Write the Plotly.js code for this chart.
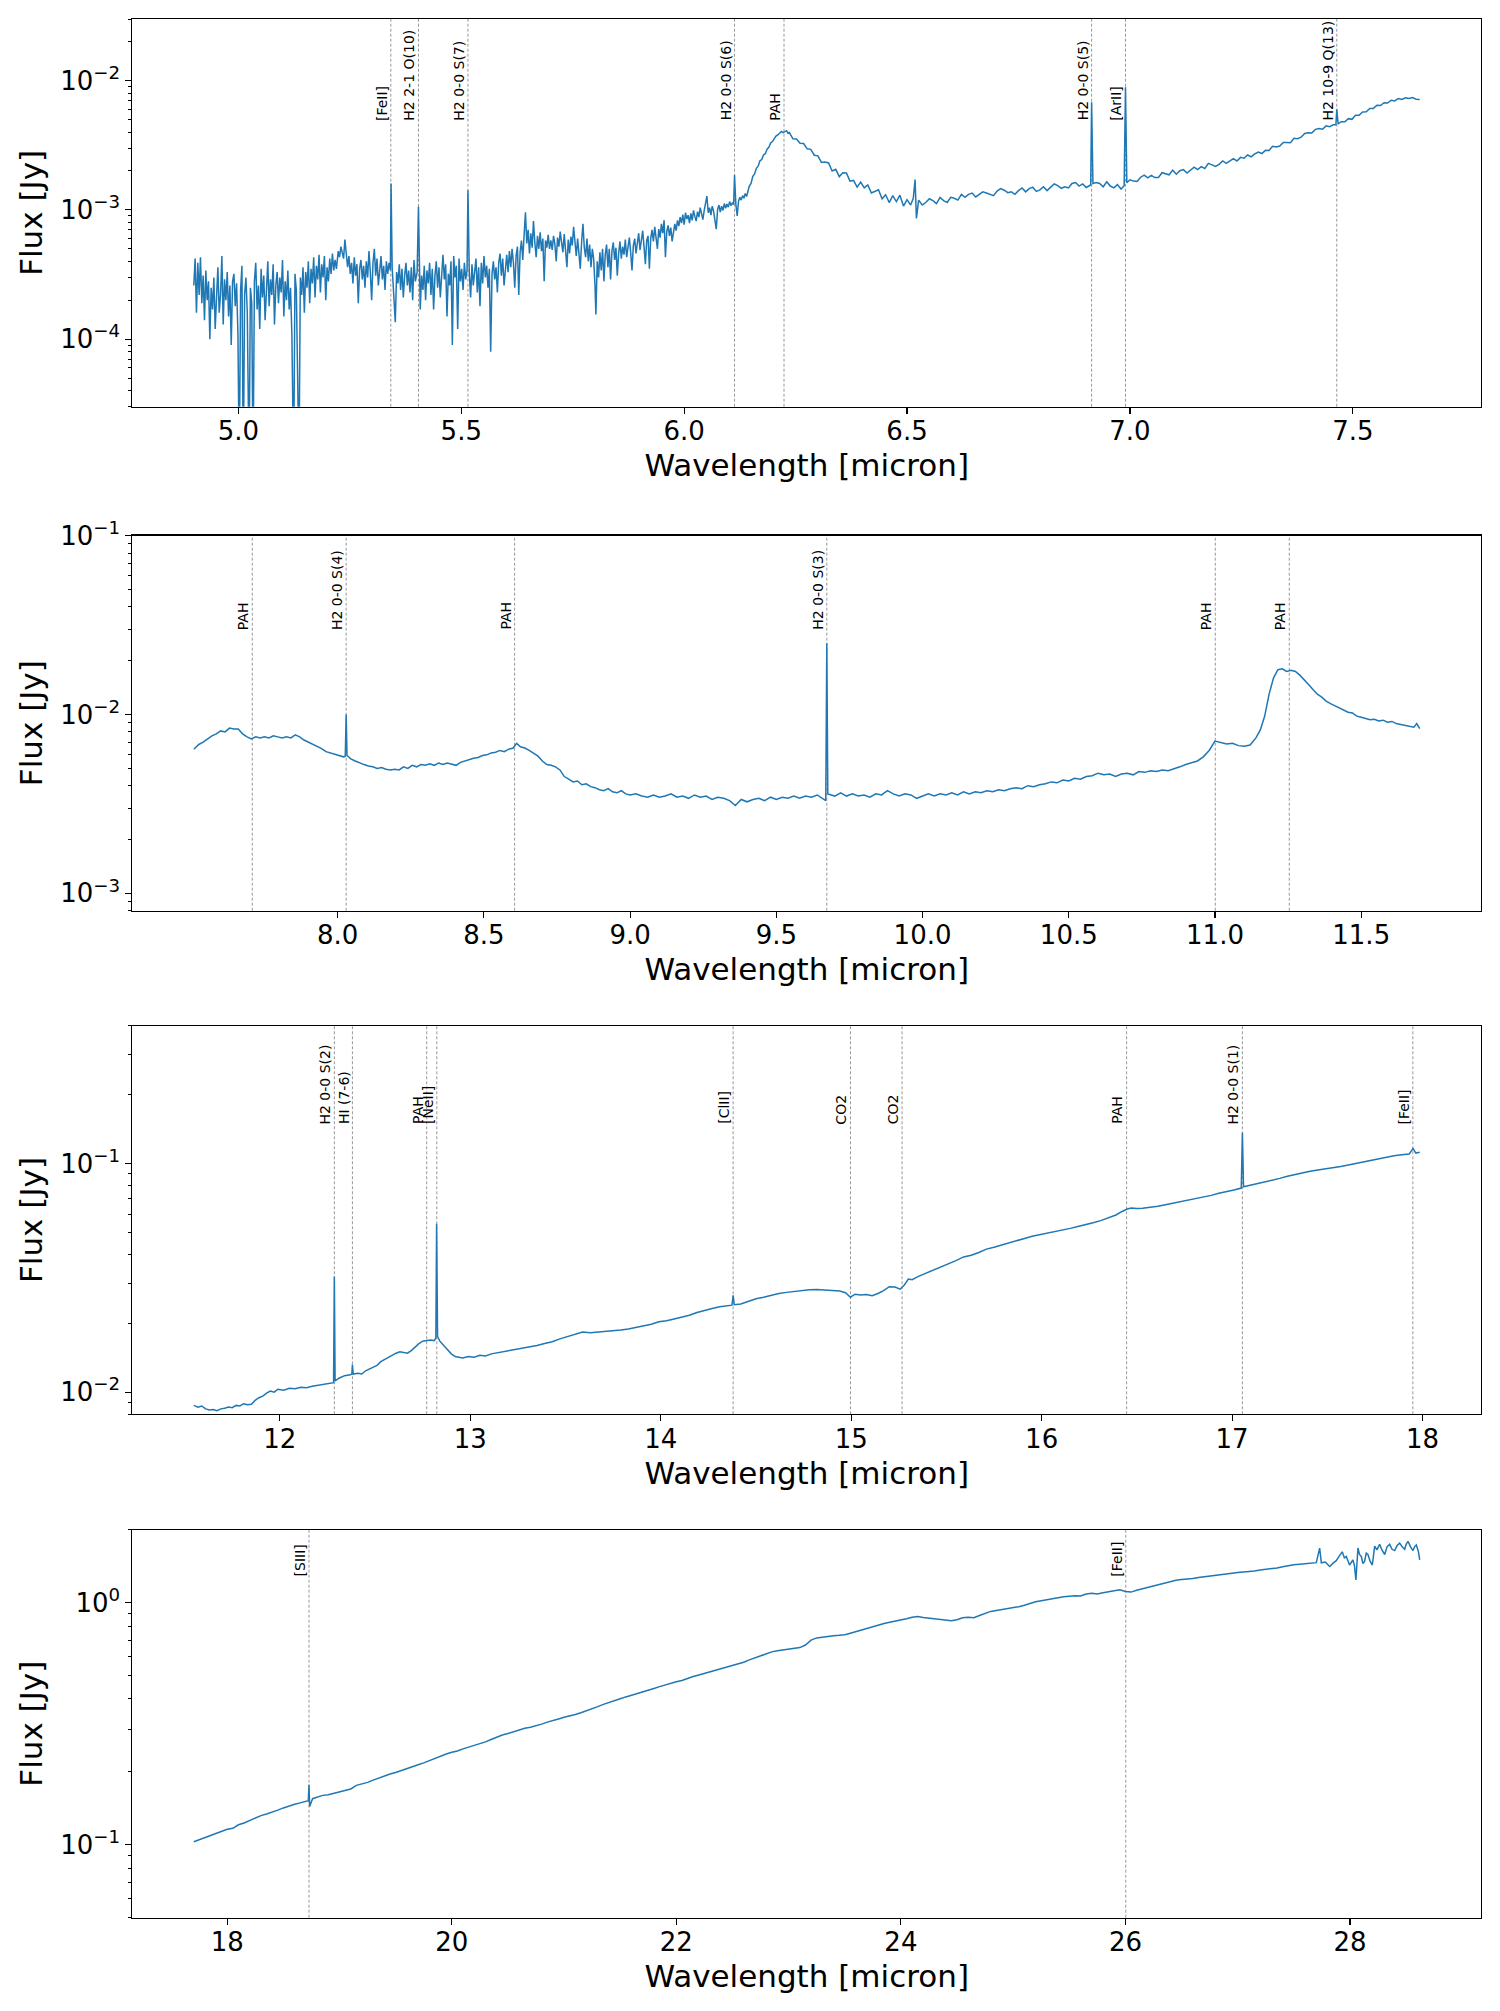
<!DOCTYPE html>
<html>
<head>
<meta charset="utf-8">
<script src="https://cdn.plot.ly/plotly-3.0.1.min.js"></script>
<style>
  html, body { margin: 0; padding: 0; background: #fff; }
  #chart { width: 1500px; height: 2011px; }
</style>
</head>
<body>
<div id="chart"></div>
<script>
// Spectrum pieces, [wavelength (micron), flux (Jy)]
const specA = [
[4.900,2.6e-4],[4.903,4.2e-4],[4.906,1.6e-4],[4.909,3.9e-4],[4.912,2.2e-4],[4.915,4.3e-4],[4.918,1.9e-4],[4.921,3.1e-4],
[4.924,1.4e-4],[4.927,3.4e-4],[4.930,2.0e-4],[4.933,2.8e-4],[4.936,1.0e-4],[4.939,2.5e-4],[4.942,1.7e-4],[4.945,3.0e-4],
[4.948,1.2e-4],[4.951,2.4e-4],[4.954,3.6e-4],[4.957,1.6e-4],[4.960,2.2e-4],[4.963,4.4e-4],[4.966,1.3e-4],[4.969,2.9e-4],
[4.972,2.0e-4],[4.975,3.3e-4],[4.978,1.5e-4],[4.981,2.6e-4],[4.984,9.0e-5],[4.987,2.8e-4],[4.990,3.2e-4],[4.993,1.8e-4],
[4.996,2.7e-4],[4.999,1.1e-4],[5.002,1.0e-5],[5.005,2.4e-4],[5.008,3.7e-4],[5.011,1.0e-5],[5.014,2.2e-4],[5.017,3.0e-4],
[5.020,1.6e-4],[5.024,1.0e-5],[5.027,2.5e-4],[5.030,1.9e-4],[5.033,1.0e-5],[5.036,2.8e-4],[5.039,3.9e-4],[5.042,1.7e-4],
[5.045,2.6e-4],[5.048,1.2e-4],[5.051,3.5e-4],[5.054,2.1e-4],[5.057,3.1e-4],[5.060,1.4e-4],[5.063,2.7e-4],[5.066,4.0e-4],
[5.069,1.8e-4],[5.072,2.9e-4],[5.075,2.2e-4],[5.078,3.8e-4],[5.081,1.3e-4],[5.084,2.6e-4],[5.087,3.3e-4],[5.090,1.9e-4],
[5.093,3.0e-4],[5.096,2.3e-4],[5.099,4.1e-4],[5.102,1.5e-4],[5.105,2.8e-4],[5.108,2.0e-4],[5.111,3.4e-4],[5.114,1.7e-4],
[5.117,2.5e-4],[5.120,1.1e-4],[5.124,1.0e-5],[5.127,3.2e-4],[5.130,2.4e-4],[5.133,1.0e-5],[5.136,1.0e-5],[5.139,3.0e-4],
[5.142,2.2e-4],[5.145,3.6e-4],[5.148,1.6e-4],[5.151,3.3e-4],[5.154,2.5e-4],[5.157,4.0e-4],[5.160,1.9e-4],[5.163,3.5e-4],
[5.166,2.7e-4],[5.169,4.3e-4],[5.172,2.1e-4],[5.175,3.7e-4],[5.178,2.9e-4],[5.181,4.5e-4],[5.184,2.3e-4],[5.187,3.8e-4],
[5.190,3.0e-4],[5.193,4.4e-4],[5.196,2.0e-4],[5.199,3.6e-4],[5.202,2.8e-4],[5.205,4.2e-4],[5.208,3.2e-4],[5.211,4.6e-4],
[5.214,3.4e-4],[5.217,4.1e-4],[5.220,3.5e-4],[5.224,4.8e-4],[5.227,4.3e-4],[5.230,5.2e-4],[5.233,4.5e-4],[5.236,4.2e-4],
[5.239,5.9e-4],[5.242,4.6e-4],[5.245,3.6e-4],[5.248,4.4e-4],[5.251,3.2e-4],[5.254,3.9e-4],[5.257,2.7e-4],[5.260,4.3e-4],
[5.263,3.1e-4],[5.266,3.8e-4],[5.269,1.9e-4],[5.272,3.5e-4],[5.275,4.1e-4],[5.278,2.9e-4],[5.281,3.7e-4],[5.284,2.5e-4],
[5.287,4.0e-4],[5.290,3.0e-4],[5.293,4.8e-4],[5.296,3.3e-4],[5.299,2.0e-4],[5.302,3.9e-4],[5.305,5.0e-4],[5.308,3.1e-4],
[5.311,4.2e-4],[5.314,2.6e-4],[5.317,3.6e-4],[5.320,4.4e-4],[5.323,2.9e-4],[5.326,3.7e-4],[5.329,2.4e-4],[5.332,4.0e-4],
[5.335,3.2e-4],[5.338,3.9e-4],[5.341,3.4e-4],[5.3425,1.6e-3],[5.345,3.6e-4],[5.349,2.2e-4],[5.352,1.35e-4],[5.355,3.3e-4],
[5.358,2.7e-4],[5.361,3.8e-4],[5.364,2.4e-4],[5.367,3.5e-4],[5.370,2.1e-4],[5.373,3.1e-4],[5.376,3.9e-4],[5.379,2.6e-4],
[5.382,3.4e-4],[5.385,2.3e-4],[5.388,3.6e-4],[5.391,2.0e-4],[5.394,4.1e-4],[5.397,2.8e-4],[5.401,3.3e-4],[5.404,1.06e-3],
[5.406,2.6e-4],[5.408,1.7e-4],[5.411,3.1e-4],[5.414,2.4e-4],[5.417,3.7e-4],[5.420,2.0e-4],[5.423,3.4e-4],[5.426,2.7e-4],
[5.429,3.9e-4],[5.432,2.2e-4],[5.435,3.5e-4],[5.438,1.7e-4],[5.441,3.1e-4],[5.444,4.0e-4],[5.447,2.5e-4],[5.450,3.6e-4],
[5.453,2.1e-4],[5.456,3.3e-4],[5.459,4.5e-4],[5.462,2.9e-4],[5.465,3.8e-4],[5.468,1.5e-4],[5.471,3.2e-4],[5.474,2.6e-4],
[5.477,4.0e-4],[5.480,9.0e-5],[5.483,4.4e-4],[5.486,3.0e-4],[5.489,3.7e-4],[5.492,1.2e-4],[5.495,4.2e-4],[5.498,2.8e-4],
[5.501,3.5e-4],[5.504,2.4e-4],[5.507,3.9e-4],[5.510,2.9e-4],[5.513,3.4e-4],[5.515,1.42e-3],[5.518,3.3e-4],[5.521,2.1e-4],
[5.524,3.8e-4],[5.527,2.6e-4],[5.530,3.4e-4],[5.533,4.2e-4],[5.536,2.3e-4],[5.539,3.6e-4],[5.542,1.8e-4],[5.545,3.9e-4],
[5.548,2.7e-4],[5.551,4.4e-4],[5.554,3.0e-4],[5.557,3.7e-4],[5.560,2.5e-4],[5.563,3.5e-4],[5.566,8.0e-5],[5.569,3.2e-4],
[5.572,4.0e-4],[5.575,2.9e-4],[5.578,3.6e-4],[5.581,2.3e-4],[5.584,3.9e-4],[5.587,4.6e-4],[5.590,3.1e-4],[5.593,4.2e-4],
[5.596,2.6e-4],[5.599,3.8e-4],[5.602,4.5e-4],[5.605,3.3e-4],[5.608,4.8e-4],[5.611,3.6e-4],[5.614,5.0e-4],[5.617,3.9e-4],
[5.620,2.5e-4],[5.623,4.4e-4],[5.626,5.2e-4],[5.629,2.2e-4],[5.632,4.7e-4],[5.635,5.8e-4],[5.638,4.1e-4],[5.641,6.4e-4],
[5.644,9.6e-4],[5.647,5.5e-4],[5.650,7.0e-4],[5.653,4.6e-4],[5.656,6.6e-4],[5.659,5.1e-4],[5.662,8.2e-4],[5.665,5.6e-4],
[5.668,4.3e-4],[5.671,6.3e-4],[5.674,5.0e-4],[5.677,6.7e-4],[5.680,4.8e-4],[5.683,6.0e-4],[5.686,2.8e-4],[5.689,5.8e-4],
[5.692,5.1e-4],[5.695,6.4e-4],[5.698,5.0e-4],[5.701,5.8e-4],[5.704,4.9e-4],[5.707,6.3e-4],[5.710,5.4e-4],[5.713,4.0e-4],
[5.716,6.1e-4],[5.719,5.2e-4],[5.722,6.8e-4],[5.725,5.6e-4],[5.728,4.7e-4],[5.731,6.5e-4],[5.734,5.0e-4],[5.737,3.6e-4],
[5.740,5.9e-4],[5.743,4.6e-4],[5.746,6.2e-4],[5.749,5.3e-4],[5.752,7.4e-4],[5.755,5.5e-4],[5.758,4.4e-4],[5.761,6.0e-4],
[5.764,4.8e-4],[5.767,3.5e-4],[5.770,5.7e-4],[5.773,7.8e-4],[5.776,5.1e-4],[5.779,4.3e-4],[5.782,6.0e-4],[5.785,4.0e-4],
[5.788,5.4e-4],[5.791,3.6e-4],[5.794,5.0e-4],[5.797,4.2e-4],[5.800,2.6e-4],[5.802,1.55e-4],[5.805,4.0e-4],[5.808,3.0e-4],
[5.811,4.7e-4],[5.814,3.4e-4],[5.817,5.0e-4],[5.820,2.8e-4],[5.823,4.5e-4],[5.826,5.4e-4],[5.829,3.6e-4],[5.832,5.0e-4],
[5.835,2.9e-4],[5.838,4.8e-4],[5.841,5.6e-4],[5.844,4.1e-4],[5.847,5.1e-4],[5.850,3.1e-4],[5.853,4.6e-4],[5.856,5.7e-4],
[5.859,4.2e-4],[5.862,5.2e-4],[5.865,4.5e-4],[5.868,5.9e-4],[5.871,4.3e-4],[5.874,5.0e-4],[5.877,6.1e-4],[5.880,4.7e-4],
[5.883,3.4e-4],[5.886,5.3e-4],[5.889,6.0e-4],[5.892,4.6e-4],[5.895,5.6e-4],[5.898,6.6e-4],[5.901,4.9e-4],[5.904,5.9e-4],
[5.907,6.9e-4],[5.910,5.2e-4],[5.913,3.8e-4],[5.916,5.8e-4],[5.919,6.3e-4],[5.922,3.5e-4],[5.925,6.0e-4],[5.928,7.0e-4],
[5.931,5.7e-4],[5.934,7.4e-4],[5.937,6.3e-4],[5.940,5.0e-4],[5.943,7.1e-4],[5.946,6.1e-4],[5.949,7.8e-4],[5.952,6.6e-4],
[5.955,8.3e-4],[5.958,4.3e-4],[5.961,6.8e-4],[5.964,7.6e-4],[5.967,6.3e-4],[5.970,7.3e-4],[5.973,5.7e-4],[5.976,7.0e-4],
[5.979,7.8e-4],[5.982,6.9e-4],[5.985,8.3e-4],[5.988,7.5e-4],[5.991,8.8e-4],[5.994,7.9e-4],[5.997,9.2e-4],[6.000,7.7e-4],
[6.003,9.5e-4],[6.006,8.5e-4],[6.009,9.1e-4],[6.012,7.9e-4],[6.015,9.4e-4],[6.018,8.3e-4],[6.021,9.9e-4],[6.024,8.9e-4],
[6.027,8.2e-4],[6.030,9.7e-4],[6.033,8.8e-4],[6.036,1.04e-3],[6.039,9.2e-4],[6.042,8.4e-4],[6.045,9.9e-4],[6.048,1.1e-3],
[6.051,1.28e-3],[6.054,9.5e-4],[6.057,1.04e-3],[6.060,9.1e-4],[6.063,1.07e-3],[6.066,9.8e-4],[6.069,8.2e-4],[6.072,7.1e-4],
[6.075,1.01e-3],[6.078,1.09e-3],[6.081,9.6e-4],[6.084,1.07e-3],[6.087,9.9e-4],[6.090,1.12e-3],[6.093,1.03e-3],[6.096,1.11e-3],
[6.099,1.05e-3],[6.102,1.16e-3],[6.105,1.08e-3],[6.108,1.13e-3],[6.111,1.1e-3],[6.113,1.86e-3],[6.116,1.1e-3],[6.119,9.0e-4],
[6.122,1.17e-3],[6.125,1.25e-3],[6.128,1.19e-3],[6.131,1.29e-3],[6.134,1.23e-3],[6.137,1.34e-3],[6.140,1.27e-3],[6.143,1.4e-3],
[6.146,1.52e-3],[6.150,1.6e-3],[6.154,1.82e-3],[6.158,1.9e-3],[6.162,2.1e-3],[6.166,2.18e-3],[6.170,2.4e-3],[6.174,2.45e-3],
[6.178,2.66e-3],[6.182,2.72e-3],[6.186,2.95e-3],[6.190,3.05e-3],[6.194,3.3e-3],[6.198,3.38e-3],[6.202,3.55e-3],[6.206,3.72e-3],
[6.210,3.8e-3],[6.214,3.95e-3],[6.218,4.05e-3],[6.222,3.96e-3],[6.226,4.06e-3],[6.230,4.1e-3],[6.233,3.92e-3],
[6.236,3.97e-3],[6.244,3.55e-3],[6.252,3.54e-3],[6.260,3.28e-3],[6.268,3.26e-3],[6.276,2.97e-3],[6.284,2.94e-3],[6.292,2.65e-3],
[6.300,2.62e-3],[6.308,2.33e-3],[6.316,2.35e-3],[6.324,2.31e-3],[6.332,2.0e-3],[6.340,2.06e-3],[6.348,1.81e-3],[6.356,1.94e-3],
[6.364,1.93e-3],[6.372,1.67e-3],[6.380,1.69e-3],[6.388,1.5e-3],[6.396,1.64e-3],[6.404,1.48e-3],[6.412,1.56e-3],[6.420,1.35e-3],
[6.428,1.39e-3],[6.436,1.43e-3],[6.444,1.22e-3],[6.452,1.31e-3],[6.460,1.14e-3],[6.468,1.29e-3],[6.476,1.16e-3],[6.484,1.3e-3],
[6.492,1.07e-3],[6.500,1.2e-3],[6.508,1.09e-3],[6.514,1.23e-3],[6.518,1.72e-3],[6.521,8.6e-4],[6.526,1.19e-3],[6.534,1.09e-3],
[6.542,1.14e-3],[6.550,1.22e-3],[6.558,1.18e-3],[6.566,1.12e-3],[6.574,1.25e-3],[6.582,1.18e-3],[6.590,1.14e-3],[6.598,1.25e-3],
[6.606,1.23e-3],[6.614,1.19e-3],[6.622,1.32e-3],[6.630,1.25e-3],[6.638,1.32e-3],[6.646,1.35e-3],[6.654,1.26e-3],[6.662,1.33e-3],
[6.670,1.38e-3],[6.678,1.35e-3],[6.686,1.31e-3],[6.694,1.29e-3],[6.702,1.4e-3],[6.710,1.46e-3],[6.718,1.42e-3],[6.726,1.36e-3],
[6.734,1.38e-3],[6.742,1.32e-3],[6.750,1.41e-3],[6.758,1.48e-3],[6.766,1.38e-3],[6.774,1.46e-3],[6.782,1.5e-3],[6.790,1.39e-3],
[6.798,1.43e-3],[6.806,1.51e-3],[6.814,1.41e-3],[6.822,1.5e-3],[6.830,1.59e-3],[6.838,1.54e-3],[6.846,1.47e-3],[6.854,1.51e-3],
[6.862,1.48e-3],[6.870,1.6e-3],[6.878,1.63e-3],[6.886,1.53e-3],[6.894,1.59e-3],[6.902,1.49e-3],[6.909,1.55e-3],[6.912,1.56e-3],
[6.914,6.8e-3],[6.917,1.6e-3],[6.924,1.63e-3],[6.932,1.6e-3],[6.940,1.51e-3],[6.948,1.65e-3],[6.956,1.53e-3],[6.964,1.48e-3],
[6.972,1.57e-3],[6.980,1.45e-3],[6.987,1.54e-3],[6.990,8.9e-3],[6.993,1.62e-3],[7.000,1.71e-3],[7.008,1.67e-3],[7.016,1.66e-3],
[7.024,1.79e-3],[7.032,1.86e-3],[7.040,1.77e-3],[7.048,1.85e-3],[7.056,1.78e-3],[7.064,1.78e-3],[7.072,1.94e-3],[7.080,1.91e-3],
[7.088,1.87e-3],[7.096,2.03e-3],[7.104,1.89e-3],[7.112,2.01e-3],[7.120,2.05e-3],[7.128,1.93e-3],[7.136,2.02e-3],[7.144,2.14e-3],
[7.152,2.05e-3],[7.160,2.16e-3],[7.168,2.09e-3],[7.176,2.29e-3],[7.184,2.23e-3],[7.192,2.17e-3],[7.200,2.25e-3],[7.208,2.39e-3],
[7.216,2.29e-3],[7.224,2.4e-3],[7.232,2.49e-3],[7.240,2.39e-3],[7.248,2.55e-3],[7.256,2.51e-3],[7.264,2.66e-3],[7.272,2.57e-3],
[7.280,2.71e-3],[7.288,2.8e-3],[7.296,2.73e-3],[7.304,2.89e-3],[7.312,2.88e-3],[7.320,3.11e-3],[7.328,3.07e-3],[7.336,3.12e-3],
[7.344,3.32e-3],[7.352,3.33e-3],[7.360,3.31e-3],[7.368,3.58e-3],[7.376,3.56e-3],[7.384,3.65e-3],[7.392,3.9e-3],[7.400,3.96e-3],
[7.408,3.94e-3],[7.416,4.2e-3],[7.424,4.26e-3],[7.432,4.21e-3],[7.440,4.47e-3],[7.448,4.4e-3],[7.456,4.55e-3],[7.462,4.55e-3],
[7.464,6.0e-3],[7.467,4.62e-3],[7.474,4.81e-3],[7.482,4.8e-3],[7.490,5.08e-3],[7.498,5.02e-3],[7.506,5.39e-3],[7.514,5.4e-3],
[7.522,5.73e-3],[7.530,5.74e-3],[7.538,6.1e-3],[7.546,6.1e-3],[7.554,6.45e-3],[7.562,6.42e-3],[7.570,6.75e-3],[7.578,6.71e-3],
[7.586,7.06e-3],[7.594,6.97e-3],[7.602,7.28e-3],[7.610,7.15e-3],[7.618,7.37e-3],[7.626,7.27e-3],[7.634,7.39e-3],[7.642,7.18e-3],
[7.650,7.15e-3]
];

const specB = [
[7.508,6.4e-3],[7.525,6.8e-3],[7.540,7.0e-3],[7.555,7.3e-3],[7.570,7.6e-3],[7.585,7.8e-3],[7.600,8.1e-3],[7.615,8.0e-3],
[7.630,8.4e-3],[7.645,8.3e-3],[7.660,8.3e-3],[7.675,7.8e-3],[7.690,7.5e-3],[7.705,7.3e-3],[7.720,7.5e-3],[7.735,7.4e-3],
[7.750,7.5e-3],[7.765,7.4e-3],[7.780,7.6e-3],[7.795,7.5e-3],[7.810,7.4e-3],[7.825,7.5e-3],[7.840,7.4e-3],[7.855,7.7e-3],
[7.870,7.5e-3],[7.885,7.2e-3],[7.900,7.0e-3],[7.915,6.8e-3],[7.930,6.6e-3],[7.945,6.45e-3],[7.960,6.2e-3],[7.975,6.1e-3],
[7.990,5.95e-3],[8.005,5.9e-3],[8.020,5.8e-3],[8.026,5.85e-3],[8.029,1.0e-2],[8.032,5.9e-3],[8.045,5.65e-3],[8.060,5.5e-3],
[8.075,5.4e-3],[8.090,5.25e-3],[8.105,5.15e-3],[8.120,5.1e-3],[8.135,5.0e-3],[8.150,5.05e-3],[8.165,4.95e-3],[8.180,4.9e-3],
[8.195,4.95e-3],[8.210,4.9e-3],[8.225,5.1e-3],[8.240,5.0e-3],[8.255,5.2e-3],[8.270,5.1e-3],[8.285,5.25e-3],[8.300,5.2e-3],
[8.315,5.3e-3],[8.330,5.2e-3],[8.345,5.35e-3],[8.360,5.25e-3],[8.375,5.35e-3],[8.390,5.3e-3],[8.405,5.2e-3],[8.420,5.4e-3],
[8.435,5.5e-3],[8.450,5.6e-3],[8.465,5.7e-3],[8.480,5.75e-3],[8.495,5.9e-3],[8.510,5.95e-3],[8.525,6.1e-3],[8.540,6.15e-3],
[8.555,6.3e-3],[8.570,6.2e-3],[8.585,6.4e-3],[8.600,6.5e-3],[8.612,6.9e-3],[8.625,6.6e-3],[8.640,6.5e-3],[8.655,6.3e-3],
[8.670,6.1e-3],[8.685,5.85e-3],[8.700,5.5e-3],[8.715,5.25e-3],[8.730,5.2e-3],[8.745,5.1e-3],[8.760,4.9e-3],[8.775,4.5e-3],
[8.790,4.35e-3],[8.805,4.2e-3],[8.820,4.25e-3],[8.835,4.05e-3],[8.850,4.1e-3],[8.865,3.95e-3],[8.880,3.9e-3],[8.895,3.8e-3],
[8.910,3.75e-3],[8.925,3.85e-3],[8.940,3.7e-3],[8.955,3.65e-3],[8.970,3.75e-3],[8.985,3.6e-3],[9.000,3.55e-3],[9.020,3.6e-3],
[9.040,3.5e-3],[9.060,3.45e-3],[9.080,3.55e-3],[9.100,3.45e-3],[9.120,3.5e-3],[9.140,3.6e-3],[9.160,3.45e-3],[9.180,3.5e-3],
[9.200,3.4e-3],[9.220,3.55e-3],[9.240,3.45e-3],[9.260,3.5e-3],[9.280,3.35e-3],[9.300,3.45e-3],[9.320,3.4e-3],[9.340,3.3e-3],
[9.360,3.1e-3],[9.380,3.35e-3],[9.400,3.25e-3],[9.420,3.35e-3],[9.440,3.4e-3],[9.460,3.3e-3],[9.480,3.45e-3],[9.500,3.35e-3],
[9.520,3.45e-3],[9.540,3.4e-3],[9.560,3.5e-3],[9.580,3.4e-3],[9.600,3.5e-3],[9.620,3.45e-3],[9.640,3.55e-3],[9.660,3.4e-3],
[9.669,3.3e-3],[9.6726,2.5e-2],[9.676,3.6e-3],[9.700,3.5e-3],[9.720,3.65e-3],[9.740,3.5e-3],[9.760,3.6e-3],[9.780,3.5e-3],
[9.800,3.55e-3],[9.820,3.45e-3],[9.840,3.6e-3],[9.860,3.55e-3],[9.880,3.75e-3],[9.900,3.6e-3],[9.920,3.5e-3],[9.940,3.6e-3],
[9.960,3.55e-3],[9.980,3.4e-3],[10.000,3.5e-3],[10.020,3.6e-3],[10.040,3.5e-3],[10.060,3.6e-3],[10.080,3.55e-3],[10.100,3.65e-3],
[10.120,3.55e-3],[10.140,3.7e-3],[10.160,3.6e-3],[10.180,3.7e-3],[10.200,3.65e-3],[10.220,3.75e-3],[10.240,3.7e-3],[10.260,3.8e-3],
[10.280,3.75e-3],[10.300,3.85e-3],[10.320,3.9e-3],[10.340,3.85e-3],[10.360,4.0e-3],[10.380,3.95e-3],[10.400,4.05e-3],[10.420,4.1e-3],
[10.440,4.2e-3],[10.460,4.15e-3],[10.480,4.3e-3],[10.500,4.25e-3],[10.520,4.4e-3],[10.540,4.35e-3],[10.560,4.5e-3],[10.580,4.55e-3],
[10.600,4.7e-3],[10.620,4.6e-3],[10.640,4.65e-3],[10.660,4.5e-3],[10.680,4.65e-3],[10.700,4.7e-3],[10.720,4.6e-3],[10.740,4.8e-3],
[10.760,4.75e-3],[10.780,4.85e-3],[10.800,4.8e-3],[10.820,4.9e-3],[10.840,4.85e-3],[10.860,4.95e-3],[10.880,5.1e-3],[10.900,5.25e-3],
[10.920,5.4e-3],[10.940,5.5e-3],[10.960,5.8e-3],[10.980,6.3e-3],[11.000,7.1e-3],[11.020,7.0e-3],[11.040,6.85e-3],[11.060,6.9e-3],
[11.080,6.7e-3],[11.100,6.65e-3],[11.120,6.75e-3],[11.140,7.4e-3],[11.155,8.2e-3],[11.170,9.8e-3],[11.185,1.3e-2],[11.200,1.6e-2],
[11.215,1.78e-2],[11.230,1.8e-2],[11.245,1.74e-2],[11.260,1.77e-2],[11.275,1.74e-2],[11.290,1.66e-2],[11.305,1.57e-2],[11.320,1.47e-2],
[11.335,1.38e-2],[11.350,1.3e-2],[11.365,1.25e-2],[11.380,1.19e-2],[11.395,1.15e-2],[11.410,1.12e-2],[11.425,1.08e-2],[11.440,1.06e-2],
[11.455,1.03e-2],[11.470,1.02e-2],[11.485,9.8e-3],[11.500,9.65e-3],[11.515,9.5e-3],[11.530,9.35e-3],[11.545,9.4e-3],[11.560,9.2e-3],
[11.575,9.3e-3],[11.590,9.05e-3],[11.605,9.15e-3],[11.620,8.9e-3],[11.635,8.8e-3],[11.650,8.7e-3],[11.665,8.6e-3],[11.680,8.5e-3],
[11.690,8.9e-3],[11.700,8.35e-3]
];

const specC = [
[11.548,8.75e-3],[11.570,8.6e-3],[11.590,8.7e-3],[11.610,8.45e-3],[11.630,8.35e-3],[11.650,8.4e-3],[11.670,8.3e-3],[11.690,8.45e-3],
[11.710,8.5e-3],[11.730,8.6e-3],[11.750,8.55e-3],[11.770,8.75e-3],[11.790,8.7e-3],[11.810,8.9e-3],[11.830,8.8e-3],[11.850,8.85e-3],
[11.870,9.2e-3],[11.890,9.45e-3],[11.910,9.6e-3],[11.930,9.9e-3],[11.950,1.01e-2],[11.970,1.0e-2],[11.990,1.03e-2],[12.020,1.02e-2],
[12.050,1.04e-2],[12.080,1.035e-2],[12.110,1.05e-2],[12.140,1.045e-2],[12.170,1.06e-2],[12.200,1.07e-2],[12.230,1.08e-2],[12.260,1.09e-2],
[12.282,1.1e-2],[12.286,3.2e-2],[12.290,1.12e-2],[12.310,1.15e-2],[12.340,1.18e-2],[12.370,1.19e-2],[12.378,1.2e-2],[12.381,1.32e-2],
[12.385,1.2e-2],[12.410,1.21e-2],[12.430,1.2e-2],[12.450,1.24e-2],[12.470,1.26e-2],[12.490,1.29e-2],[12.510,1.31e-2],[12.530,1.36e-2],
[12.550,1.39e-2],[12.570,1.42e-2],[12.590,1.46e-2],[12.610,1.48e-2],[12.630,1.5e-2],[12.650,1.49e-2],[12.670,1.48e-2],[12.690,1.52e-2],
[12.710,1.58e-2],[12.730,1.63e-2],[12.750,1.67e-2],[12.770,1.68e-2],[12.790,1.69e-2],[12.810,1.68e-2],[12.819,1.72e-2],[12.823,5.45e-2],
[12.828,1.75e-2],[12.840,1.67e-2],[12.860,1.6e-2],[12.880,1.52e-2],[12.900,1.47e-2],[12.920,1.43e-2],[12.940,1.42e-2],[12.960,1.41e-2],
[12.990,1.43e-2],[13.020,1.42e-2],[13.050,1.45e-2],[13.080,1.44e-2],[13.110,1.47e-2],[13.150,1.49e-2],[13.190,1.52e-2],[13.230,1.53e-2],
[13.270,1.56e-2],[13.310,1.58e-2],[13.350,1.6e-2],[13.390,1.63e-2],[13.430,1.66e-2],[13.470,1.71e-2],[13.510,1.75e-2],[13.550,1.8e-2],
[13.590,1.83e-2],[13.630,1.82e-2],[13.670,1.83e-2],[13.710,1.84e-2],[13.750,1.85e-2],[13.790,1.87e-2],[13.830,1.89e-2],[13.870,1.92e-2],
[13.910,1.94e-2],[13.950,1.98e-2],[13.990,2.03e-2],[14.030,2.05e-2],[14.070,2.09e-2],[14.110,2.13e-2],[14.150,2.17e-2],[14.190,2.23e-2],
[14.230,2.28e-2],[14.270,2.32e-2],[14.310,2.36e-2],[14.350,2.38e-2],[14.374,2.4e-2],[14.380,2.65e-2],[14.386,2.41e-2],[14.420,2.43e-2],
[14.460,2.49e-2],[14.500,2.56e-2],[14.540,2.6e-2],[14.580,2.65e-2],[14.620,2.7e-2],[14.660,2.73e-2],[14.700,2.76e-2],[14.740,2.79e-2],
[14.780,2.8e-2],[14.820,2.81e-2],[14.860,2.8e-2],[14.900,2.79e-2],[14.940,2.77e-2],[14.970,2.72e-2],[14.996,2.6e-2],[15.020,2.68e-2],
[15.050,2.66e-2],[15.080,2.67e-2],[15.110,2.64e-2],[15.140,2.7e-2],[15.170,2.78e-2],[15.200,2.89e-2],[15.230,2.88e-2],[15.257,2.82e-2],
[15.280,2.95e-2],[15.300,3.12e-2],[15.320,3.1e-2],[15.350,3.2e-2],[15.390,3.3e-2],[15.430,3.42e-2],[15.470,3.52e-2],[15.510,3.64e-2],
[15.550,3.76e-2],[15.590,3.9e-2],[15.630,3.97e-2],[15.670,4.08e-2],[15.710,4.22e-2],[15.750,4.3e-2],[15.790,4.4e-2],[15.830,4.52e-2],
[15.870,4.62e-2],[15.910,4.7e-2],[15.950,4.8e-2],[15.990,4.87e-2],[16.030,4.96e-2],[16.070,5.05e-2],[16.110,5.12e-2],[16.150,5.2e-2],
[16.190,5.3e-2],[16.230,5.38e-2],[16.270,5.5e-2],[16.310,5.62e-2],[16.350,5.78e-2],[16.390,5.95e-2],[16.420,6.15e-2],[16.446,6.3e-2],
[16.470,6.38e-2],[16.500,6.35e-2],[16.530,6.37e-2],[16.570,6.42e-2],[16.610,6.5e-2],[16.650,6.6e-2],[16.690,6.7e-2],[16.730,6.78e-2],
[16.770,6.88e-2],[16.810,7.0e-2],[16.850,7.12e-2],[16.890,7.25e-2],[16.930,7.4e-2],[16.970,7.5e-2],[17.010,7.65e-2],[17.048,7.8e-2],
[17.054,1.36e-1],[17.060,7.9e-2],[17.090,8.0e-2],[17.130,8.15e-2],[17.170,8.3e-2],[17.210,8.45e-2],[17.250,8.6e-2],[17.290,8.78e-2],
[17.330,8.95e-2],[17.370,9.12e-2],[17.410,9.25e-2],[17.450,9.35e-2],[17.490,9.45e-2],[17.530,9.55e-2],[17.570,9.7e-2],[17.610,9.85e-2],
[17.650,1.0e-1],[17.690,1.02e-1],[17.730,1.035e-1],[17.770,1.05e-1],[17.810,1.065e-1],[17.850,1.08e-1],[17.890,1.09e-1],[17.930,1.1e-1],
[17.950,1.16e-1],[17.965,1.11e-1],[17.985,1.12e-1]
];

const specD = [
[17.702,0.103],[17.750,0.105],[17.800,0.107],[17.850,0.109],[17.900,0.112],[17.950,0.114],[18.000,0.116],[18.050,0.117],
[18.100,0.121],[18.150,0.123],[18.200,0.126],[18.250,0.129],[18.300,0.132],[18.350,0.134],[18.400,0.136],[18.450,0.139],
[18.500,0.142],[18.550,0.145],[18.600,0.147],[18.650,0.149],[18.700,0.151],[18.722,0.152],[18.728,0.177],[18.734,0.144],
[18.760,0.155],[18.800,0.157],[18.850,0.160],[18.900,0.161],[18.950,0.163],[19.000,0.165],[19.050,0.168],[19.100,0.170],
[19.150,0.176],[19.200,0.178],[19.250,0.181],[19.300,0.185],[19.350,0.189],[19.400,0.192],[19.450,0.196],[19.500,0.199],
[19.550,0.203],[19.600,0.207],[19.650,0.211],[19.700,0.214],[19.750,0.218],[19.800,0.223],[19.850,0.228],[19.900,0.233],
[19.950,0.237],[20.000,0.241],[20.050,0.244],[20.100,0.249],[20.150,0.253],[20.200,0.256],[20.250,0.260],[20.300,0.266],
[20.350,0.272],[20.400,0.278],[20.450,0.284],[20.500,0.288],[20.550,0.293],[20.600,0.298],[20.650,0.303],[20.700,0.306],
[20.750,0.310],[20.800,0.315],[20.850,0.321],[20.900,0.325],[20.950,0.331],[21.000,0.336],[21.050,0.340],[21.100,0.345],
[21.150,0.351],[21.200,0.357],[21.250,0.365],[21.300,0.372],[21.350,0.380],[21.400,0.386],[21.450,0.393],[21.500,0.401],
[21.550,0.408],[21.600,0.414],[21.650,0.420],[21.700,0.427],[21.750,0.433],[21.800,0.442],[21.850,0.450],[21.900,0.458],
[21.950,0.466],[22.000,0.471],[22.050,0.477],[22.100,0.487],[22.150,0.495],[22.200,0.502],[22.250,0.510],[22.300,0.518],
[22.350,0.525],[22.400,0.533],[22.450,0.541],[22.500,0.549],[22.550,0.557],[22.600,0.567],[22.650,0.580],[22.700,0.592],
[22.750,0.605],[22.800,0.617],[22.850,0.626],[22.900,0.633],[22.950,0.638],[23.000,0.643],[23.050,0.648],[23.100,0.652],
[23.150,0.668],[23.200,0.700],[23.250,0.715],[23.300,0.721],[23.350,0.726],[23.400,0.730],[23.450,0.733],[23.500,0.737],
[23.550,0.748],[23.600,0.760],[23.650,0.772],[23.700,0.784],[23.750,0.795],[23.800,0.808],[23.850,0.820],[23.900,0.830],
[23.950,0.838],[24.000,0.847],[24.050,0.858],[24.100,0.870],[24.150,0.876],[24.200,0.868],[24.250,0.862],[24.300,0.858],
[24.350,0.855],[24.400,0.846],[24.450,0.842],[24.500,0.850],[24.550,0.866],[24.600,0.870],[24.650,0.866],[24.700,0.885],
[24.750,0.905],[24.800,0.920],[24.850,0.928],[24.900,0.935],[24.950,0.942],[25.000,0.950],[25.050,0.962],[25.100,0.975],
[25.150,0.992],[25.200,1.008],[25.250,1.017],[25.300,1.025],[25.350,1.035],[25.400,1.048],[25.450,1.058],[25.500,1.065],
[25.550,1.068],[25.600,1.066],[25.650,1.085],[25.700,1.092],[25.750,1.085],[25.800,1.098],[25.850,1.110],[25.900,1.125],
[25.950,1.130],[26.000,1.112],[26.050,1.105],[26.100,1.125],[26.150,1.140],[26.200,1.158],[26.250,1.172],[26.300,1.190],
[26.350,1.205],[26.400,1.222],[26.450,1.238],[26.500,1.245],[26.550,1.248],[26.600,1.258],[26.650,1.270],[26.700,1.280],
[26.750,1.288],[26.800,1.295],[26.850,1.305],[26.900,1.318],[26.950,1.322],[27.000,1.330],[27.050,1.335],[27.100,1.340],
[27.150,1.352],[27.200,1.365],[27.250,1.372],[27.300,1.378],[27.350,1.390],[27.400,1.405],[27.450,1.420],[27.500,1.432],
[27.550,1.440],[27.600,1.448],[27.650,1.455],[27.700,1.462],[27.730,1.680],[27.745,1.460],[27.780,1.470],[27.819,1.410],
[27.850,1.455],[27.878,1.490],[27.905,1.560],[27.931,1.620],[27.950,1.530],[27.967,1.550],[27.996,1.430],[28.026,1.500],
[28.040,1.420],[28.053,1.240],[28.071,1.680],[28.085,1.580],[28.101,1.550],[28.115,1.450],[28.130,1.480],[28.145,1.600],
[28.160,1.580],[28.180,1.480],[28.199,1.430],[28.220,1.710],[28.240,1.650],[28.264,1.740],[28.285,1.650],[28.309,1.580],
[28.330,1.700],[28.353,1.740],[28.375,1.660],[28.398,1.640],[28.420,1.720],[28.442,1.760],[28.465,1.700],[28.487,1.660],
[28.500,1.740],[28.517,1.790],[28.540,1.700],[28.561,1.640],[28.575,1.700],[28.591,1.730],[28.610,1.620],[28.621,1.500]
];

// Marked features in each band
const linesA  = [5.342, 5.404, 5.515, 6.113, 6.224, 6.914, 6.990, 7.464];
const namesA  = ['[FeII]', 'H2 2-1 O(10)', 'H2 0-0 S(7)', 'H2 0-0 S(6)', 'PAH', 'H2 0-0 S(5)', '[ArII]', 'H2 10-9 Q(13)'];
const linesB  = [7.708, 8.029, 8.605, 9.6726, 11.001, 11.254];
const namesB  = ['PAH', 'H2 0-0 S(4)', 'PAH', 'H2 0-0 S(3)', 'PAH', 'PAH'];
const linesC  = [12.286, 12.381, 12.771, 12.824, 14.380, 14.996, 15.267, 16.446, 17.054, 17.949];
const namesC  = ['H2 0-0 S(2)', 'HI (7-6)', 'PAH', '[NeII]', '[ClII]', 'CO2', 'CO2', 'PAH', 'H2 0-0 S(1)', '[FeII]'];
const linesD  = [18.728, 26.003];
const namesD  = ['[SIII]', '[FeII]'];

// Axis ticks
const xTicksA = [5.0, 5.5, 6.0, 6.5, 7.0, 7.5];
const xTicksB = [8.0, 8.5, 9.0, 9.5, 10.0, 10.5, 11.0, 11.5];
const xTicksC = [12, 13, 14, 15, 16, 17, 18];
const xTicksD = [18, 20, 22, 24, 26, 28];
const yTicksA = [1e-4, 1e-3, 1e-2];
const yTicksB = [1e-3, 1e-2, 1e-1];
const yTicksC = [1e-2, 1e-1];
const yTicksD = [1e-1, 1];

// Flux limits (Jy) of each panel
const yLimA = [3e-5, 3e-2];
const yLimB = [8e-4, 1e-1];
const yLimC = [8e-3, 4e-1];
const yLimD = [5e-2, 2];

const FONT = 'DejaVu Sans, Liberation Sans, sans-serif';
const BLUE = '#1f77b4';

const panels = [
  {spec: specA, lines: linesA, names: namesA, xt: xTicksA, yt: yTicksA, ylim: yLimA, xfmt: '.1f',
   dom: [0.79776, 0.99055], labelY: 0.735},
  {spec: specB, lines: linesB, names: namesB, xt: xTicksB, yt: yTicksB, ylim: yLimB, xfmt: '.1f',
   dom: [0.54714, 0.73362], labelY: 0.746},
  {spec: specC, lines: linesC, names: namesC, xt: xTicksC, yt: yTicksC, ylim: yLimC, xfmt: 'd',
   dom: [0.29672, 0.48995], labelY: 0.744},
  {spec: specD, lines: linesD, names: namesD, xt: xTicksD, yt: yTicksD, ylim: yLimD, xfmt: 'd',
   dom: [0.04639, 0.23933], labelY: 0.877}
];

function powLabel(v) {
  const p = Math.round(Math.log10(v));
  return '10<sup>' + (p < 0 ? '\u2212' + (-p) : String(p)) + '</sup>';
}

// minor log ticks at 2..9 times each decade inside the limits
function minorTicks(lim) {
  const out = [];
  for (let d = Math.floor(Math.log10(lim[0])); d <= Math.ceil(Math.log10(lim[1])); d++) {
    for (let m = 2; m <= 9; m++) {
      const v = m * Math.pow(10, d);
      if (v >= lim[0] * 0.999 && v <= lim[1] * 1.001) out.push(v);
    }
  }
  return out;
}

const data = [];
const shapes = [];
const annotations = [];
const layout = {
  width: 1500, height: 2011,
  margin: {l: 0, r: 0, t: 0, b: 0},
  paper_bgcolor: '#ffffff', plot_bgcolor: '#ffffff',
  showlegend: false,
  font: {family: FONT, color: '#000'}
};

panels.forEach((p, i) => {
  const n = i === 0 ? '' : String(i + 1);
  const xs = p.spec.map(d => d[0]);
  const ys = p.spec.map(d => d[1]);
  const x0 = xs[0], x1 = xs[xs.length - 1];
  const pad = (x1 - x0) * 0.05;

  data.push({
    type: 'scatter', mode: 'lines', x: xs, y: ys,
    xaxis: 'x' + n, yaxis: 'y' + n,
    line: {color: BLUE, width: 1.5}, hoverinfo: 'x+y'
  });

  layout['xaxis' + n] = {
    domain: [0.08833, 0.98733], anchor: 'y' + n,
    range: [x0 - pad, x1 + pad],
    tickmode: 'array', tickvals: p.xt, tickformat: p.xfmt,
    ticks: 'outside', ticklen: 6, tickwidth: 1.2, tickcolor: '#000',
    ticklabelstandoff: -5,
    showline: true, mirror: true, linecolor: '#000', linewidth: 1.2,
    showgrid: false, zeroline: false,
    tickfont: {family: FONT, size: 26, color: '#000'},
    title: {text: 'Wavelength [micron]', font: {family: FONT, size: 31, color: '#000'}, standoff: 9}
  };
  layout['yaxis' + n] = {
    type: 'log', domain: p.dom, anchor: 'x' + n,
    range: p.ylim.map(Math.log10),
    tickmode: 'array', tickvals: p.yt, ticktext: p.yt.map(powLabel),
    ticks: 'outside', ticklen: 6, tickwidth: 1.2, tickcolor: '#000',
    minor: {tickmode: 'array', tickvals: minorTicks(p.ylim), ticks: 'outside',
            ticklen: 3.5, tickwidth: 1, tickcolor: '#000', showgrid: false},
    showline: true, mirror: true, linecolor: '#000', linewidth: 1.2,
    showgrid: false, zeroline: false,
    tickfont: {family: FONT, size: 26, color: '#000'},
    title: {text: 'Flux [Jy]', font: {family: FONT, size: 31, color: '#000'}, standoff: 8}
  };

  p.lines.forEach((w, k) => {
    shapes.push({
      type: 'line', xref: 'x' + n, yref: 'y' + n + ' domain',
      x0: w, x1: w, y0: 0, y1: 1, layer: 'below',
      line: {color: '#8c8c8c', width: 0.9, dash: '3px,2px'}
    });
    annotations.push({
      x: w, y: p.labelY, xref: 'x' + n, yref: 'y' + n + ' domain',
      text: p.names[k], textangle: -90, showarrow: false,
      xanchor: 'right', yanchor: 'bottom', borderpad: 0, xshift: 0,
      font: {family: FONT, size: 14, color: '#000'}
    });
  });
});

layout.shapes = shapes;
layout.annotations = annotations;

Plotly.newPlot('chart', data, layout, {staticPlot: true, displayModeBar: false});
</script>
</body>
</html>
